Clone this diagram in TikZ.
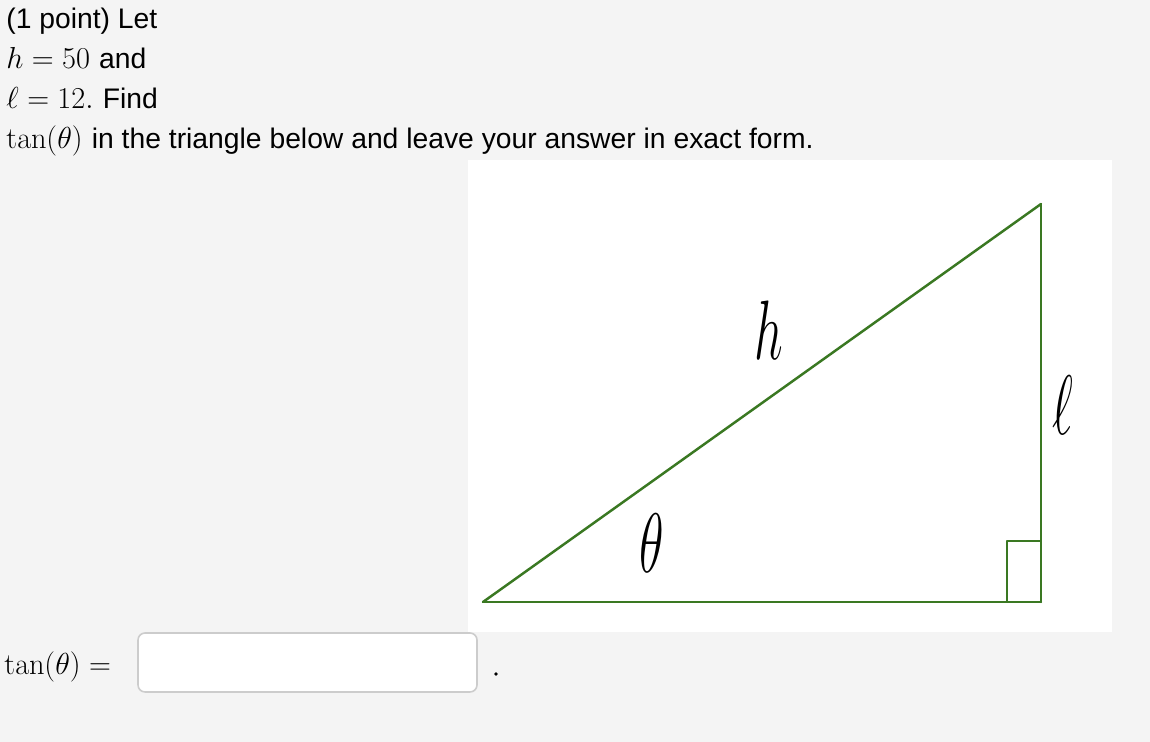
\documentclass[tikz,border=0pt]{standalone}
\usepackage{amsmath}
\usepackage{amssymb}
\usepackage{graphicx}
\usepackage[no-math]{fontspec}
\newfontfamily\helv{Liberation Sans}
\usepackage{tikz}
\usetikzlibrary{arrows}
\definecolor{trigreen}{RGB}{58,120,34}
\definecolor{pagegray}{RGB}{244,244,244}
\definecolor{boxgray}{RGB}{204,204,204}
\newcommand{\qt}[1]{{\helv\fontsize{16.1}{18}\selectfont #1}}
\newcommand{\tlbl}[1]{\scalebox{1.16}[1.93]{$#1$}}

\begin{document}
\begin{tikzpicture}[line cap=round,line join=round,x=0.02cm,y=-0.02cm,
  qline/.style={anchor=base west,inner sep=0pt,font=\fontsize{17.28}{20}\selectfont},
  tlabel/.style={inner sep=0pt,font=\fontsize{24.88}{26}\selectfont}]
\fill[pagegray] (0,0) rectangle (1150,742);
\useasboundingbox (0,0) rectangle (1150,742);
\fill[white] (468,160) rectangle (1112,632);
% question
\node[qline] (ln1) at (6,29) {\qt{(1 point) Let}};
\node[qline] (ln2) at (6,69) {$h=50$ \qt{and}};
\node[qline] (ln3) at (6,109) {$\ell=12.$ \qt{Find}};
\node[qline] (ln4) at (6,149) {$\tan(\theta)$ \qt{in the triangle below and leave your answer in exact form.}};
% triangle
\draw[trigreen,line width=1.4pt] (483,602)-- (1041,602);
\draw[trigreen,line width=1.4pt] (1041,602)-- (1041,204);
\draw[trigreen,line width=1.4pt] (1041,204)-- (483,602);
\draw[trigreen,line width=1.1pt] (1007,602)-- (1007,541);
\draw[trigreen,line width=1.1pt] (1007,541)-- (1041,541);
\node[tlabel] (lh) at (769,330) {\tlbl{h}};
\node[tlabel] (lth) at (652,543) {\tlbl{\theta}};
\node[tlabel] (lell) at (1063,405) {\tlbl{\ell}};
% answer
\node[qline] (ans) at (4,675) {$\tan(\theta)=$};
\draw[boxgray,line width=0.9pt,fill=white,rounded corners=4pt] (138,633) rectangle (477,692);
\fill (496,674) circle (1.8);
\end{tikzpicture}
\end{document}
